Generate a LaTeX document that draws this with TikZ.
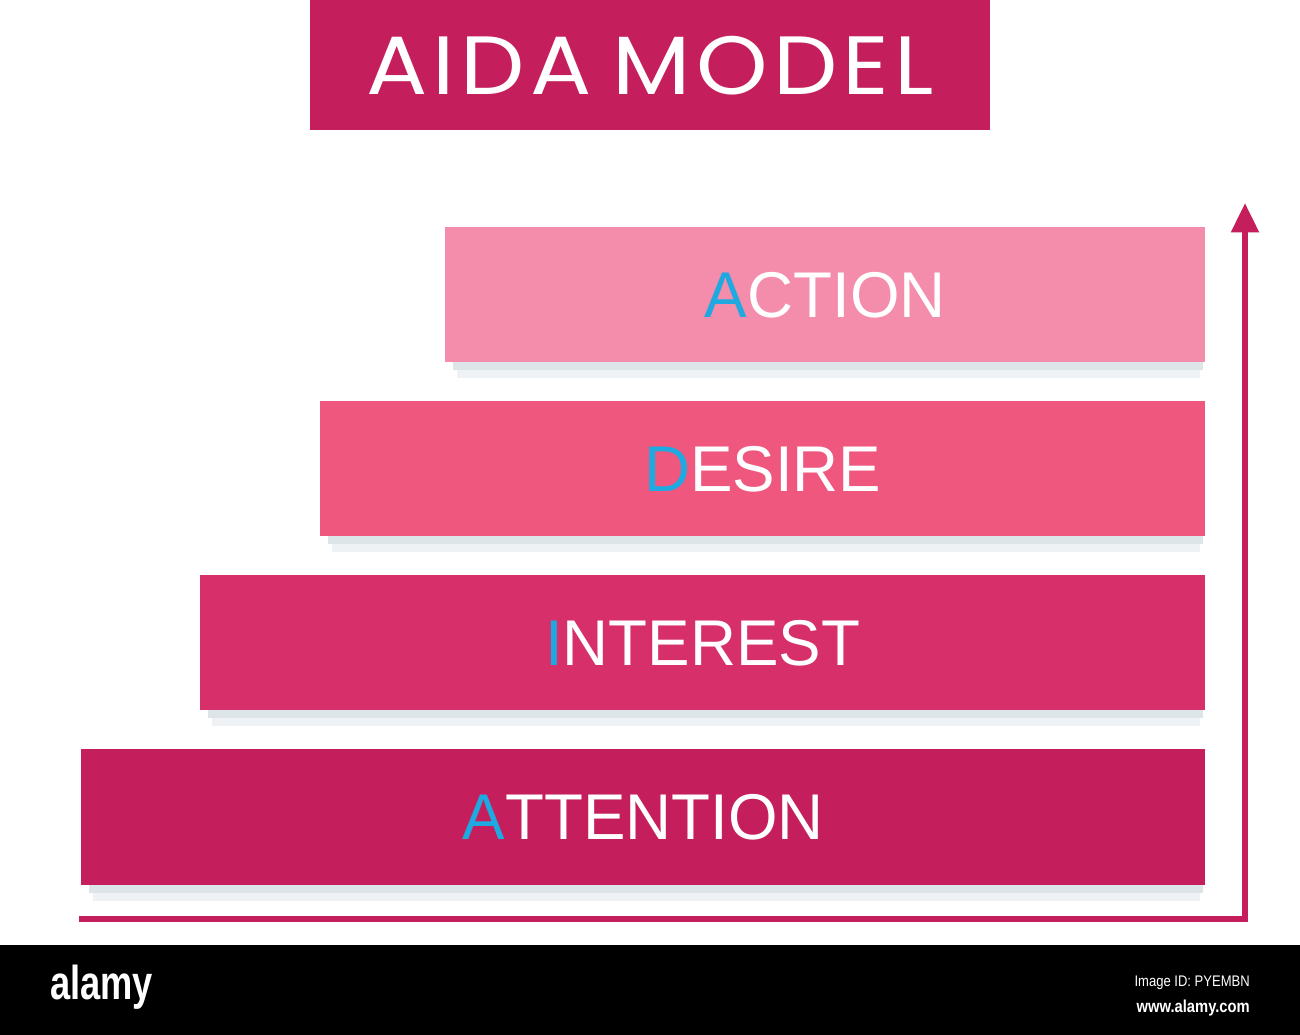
\documentclass[tikz,border=0pt]{standalone}
\usepackage{fontspec}
\setmainfont{Liberation Sans}
\newfontfamily\titlefont[LetterSpace=6]{Poppins}
\usetikzlibrary{arrows.meta}
\definecolor{cAtt}{HTML}{C41F5C}
\definecolor{cInt}{HTML}{D62F69}
\definecolor{cDes}{HTML}{EF577F}
\definecolor{cAct}{HTML}{F48CAB}
\definecolor{cBlue}{HTML}{1EA9E1}
\definecolor{cShadowA}{HTML}{DDE5E9}
\definecolor{cShadowB}{HTML}{EEF2F4}
\def\px{0.75pt}
\tikzset{
  bar/.style={draw=none, anchor=north west, inner sep=0pt, text=white,
    font=\fontsize{48.5}{48.5}\selectfont},
  shadowbar/.style={fill=cShadowA},
  shadowbarB/.style={fill=cShadowB},
  axisline/.style={draw=cAtt, line width=4.5pt},
}
\newcommand{\barlabel}[2]{\raisebox{-5pt}{\scalebox{0.985}[1]{\textcolor{cBlue}{#1}#2}}}
\begin{document}
\begin{tikzpicture}[x=0.75pt,y=-0.75pt]
\useasboundingbox (0,0) rectangle (1300,1035);
\fill[white] (0,0) rectangle (1300,1035);

% title
\node[bar, fill=cAtt, minimum width={680*\px}, minimum height={130*\px},
  font=\titlefont\fontsize{62}{62}\selectfont] (title) at (310,0)
  {\raisebox{-5pt}{\scalebox{1.1}[1]{AIDA\hspace{14pt}MODEL}}};

% shadows
\foreach \xa/\yb in {445/362, 320/536, 200/710, 81/885}{
  \fill[shadowbarB] (\xa+12,\yb) rectangle (1200,\yb+16);
  \fill[shadowbar] (\xa+8,\yb) rectangle (1203,\yb+8);
}

% bars
\node[bar, fill=cAct, minimum width={760*\px}, minimum height={135*\px}] (action) at (445,227)
  {\barlabel{A}{CTION}};
\node[bar, fill=cDes, minimum width={885*\px}, minimum height={135*\px}] (desire) at (320,401)
  {\barlabel{D}{ESIRE}};
\node[bar, fill=cInt, minimum width={1005*\px}, minimum height={135*\px}] (interest) at (200,575)
  {\barlabel{I}{NTEREST}};
\node[bar, fill=cAtt, minimum width={1124*\px}, minimum height={136*\px}] (attention) at (81,749)
  {\barlabel{A}{TTENTION}};

% axis
\coordinate (origin) at (79,919);
\coordinate (corner) at (1245,919);
\coordinate (top) at (1245,203);
\draw[axisline, line cap=butt] (origin) -- (corner) -- (1245,260);
\draw[axisline, -{Triangle[width=20pt,length=22pt]}] (1245,262) -- (top);

% banner
\fill[black] (0,945) rectangle (1300,1035);
\node[anchor=west, text=white, inner sep=0pt, font=\bfseries\fontsize{34}{34}\selectfont] (logo) at (50,987)
  {\scalebox{0.8}[1.05]{alamy}};
\node[anchor=east, text=white, inner sep=0pt, font=\fontsize{11.5}{12}\selectfont] (imgid) at (1250,983)
  {\scalebox{0.85}[1]{Image ID: PYEMBN}};
\node[anchor=east, text=white, inner sep=0pt, font=\bfseries\fontsize{13}{13}\selectfont] (site) at (1250,1008)
  {\scalebox{0.85}[1]{www.alamy.com}};
\end{tikzpicture}
\end{document}
